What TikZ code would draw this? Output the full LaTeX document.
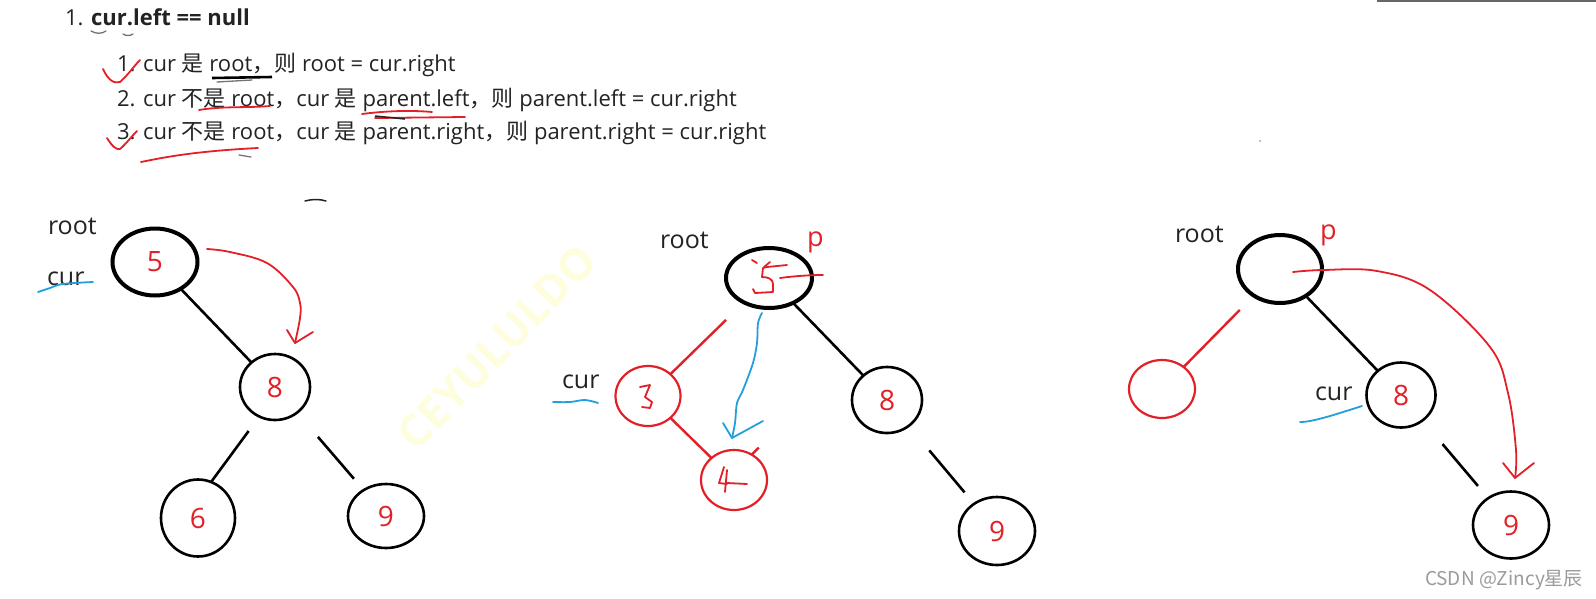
\documentclass[tikz,border=0pt]{standalone}
\usepackage{fontspec}
\setmainfont{Open Sans}
\newfontfamily\cjk{Noto Sans CJK SC}
\usetikzlibrary{shapes.geometric}
\definecolor{hred}{RGB}{226,32,40}
\definecolor{hblue}{RGB}{34,160,220}
\definecolor{wmyellow}{RGB}{254,254,222}
\definecolor{csdngray}{RGB}{155,155,155}
\definecolor{inkdark}{RGB}{35,35,35}
\begin{document}
\begin{tikzpicture}[x=1pt,y=-1pt,
 every node/.style={inner sep=0pt, outer sep=0pt},
 tnode/.style={ellipse, draw=black, line width=2.6pt, text=hred, font=\fontsize{28}{32}\selectfont},
 rootnode/.style={tnode, line width=4pt},
 rnode/.style={ellipse, draw=hred, line width=2.2pt},
 edge/.style={draw=black, line width=2.6pt},
 redge/.style={draw=hred, line width=2.4pt},
 redpen/.style={draw=hred, line width=1.8pt, line cap=round, line join=round},
 bluepen/.style={draw=hblue, line width=1.8pt, line cap=round, line join=round},
 graypen/.style={draw=black!55, line width=1.3pt, line cap=round},
 lbl/.style={anchor=base west, text=inkdark, font=\fontsize{25}{29}\selectfont},
 plbl/.style={anchor=base west, text=hred, font=\fontsize{27}{31}\selectfont},
 item/.style={anchor=base west, text=inkdark, font=\fontsize{22}{26}\selectfont},
]
\fill[white] (0,0) rectangle (1596,598);
\useasboundingbox (0,0) rectangle (1596,598);

% watermark
\node[rotate=46, text=wmyellow, font=\fontsize{44}{48}\selectfont\bfseries] (wm) at (497,347) {CEYULULDO};

% top-right bar and specks
\draw[black!60, line width=2pt] (1377,1) -- (1596,1);
\fill[black!40] (1260,141) circle (1pt);

% ---------- text list ----------
\node[anchor=base west, text=inkdark, font=\fontsize{22}{26}\selectfont] (title) at (65,25) {1. \textbf{cur.left == null}};
\node[item] (i1) at (117,71) {1. cur {\cjk 是} root{\cjk ，则} root = cur.right};
\node[item] (i2) at (117,106) {2. cur {\cjk 不是} root{\cjk ，}cur {\cjk 是} parent.left{\cjk ，则} parent.left = cur.right};
\node[item] (i3) at (117,139) {3. cur {\cjk 不是} root{\cjk ，}cur {\cjk 是} parent.right{\cjk ，则} parent.right = cur.right};

% annotations on text
\draw[graypen] (91,31) .. controls (96,34) and (102,34) .. (106,31);
\draw[graypen] (123,34) .. controls (126,36) and (130,36) .. (133,34);
\draw[redpen] (103,69) .. controls (108,80) and (114,84) .. (120,82) .. controls (128,75) and (134,66) .. (140,60);
\draw[black, line width=2.6pt] (212,78) -- (272,77);
\draw[graypen] (217,82) -- (252,80);
\draw[redpen] (199,110) .. controls (222,106) and (247,108) .. (270,106);
\draw[redpen] (362,114) .. controls (385,111) and (410,110) .. (432,112);
\draw[redpen] (375,118) -- (465,117);
\draw[inkdark, line width=1.5pt] (375,116) -- (405,119);
\draw[redpen] (107,138) .. controls (112,146) and (116,150) .. (120,149) .. controls (126,144) and (131,137) .. (137,131);
\draw[redpen] (141,162) .. controls (170,156) and (200,151) .. (258,148);
\draw[graypen] (239,155) -- (251,157);
\draw[inkdark, line width=1.5pt, line cap=round] (305,201) .. controls (312,199) and (320,199) .. (326,201);

% ---------- left tree ----------
\node[rootnode, minimum width=85pt, minimum height=67pt] (n5) at (155,262) {5};
\node[tnode, minimum width=70pt, minimum height=66pt] (n8) at (275,387) {8};
\node[tnode, minimum width=74pt, minimum height=77pt] (n6) at (198,518) {6};
\node[tnode, minimum width=76pt, minimum height=64pt] (n9) at (386,516) {9};
\node[lbl] (lroot) at (48,234) {root};
\node[lbl] (lcur) at (47,285) {cur};
\draw[edge] (n5) -- (n8);
\draw[edge, shorten <=18pt] (n8.242) -- (n6.70);
\draw[edge, shorten <=32pt, shorten >=15pt] (n8) -- (n9);
\draw[bluepen] plot[smooth, tension=0.6] coordinates {(38,292) (50,288) (63,284) (93,282)};
\coordinate (la0) at (207,249);
\coordinate (la1) at (295,343);
\draw[redpen] plot[smooth, tension=0.6] coordinates {(la0) (230,252) (267,263) (293,287) (300,303) (300,318) (la1)};
\draw[redpen] (287,330) -- (la1) -- (313,332);

% ---------- middle tree ----------
\node[rootnode, minimum width=86pt, minimum height=60pt] (mr) at (769,278) {};
\node[rnode, minimum width=65pt, minimum height=60pt] (m3) at (648,396) {};
\node[rnode, minimum width=66pt, minimum height=60pt] (m4) at (734,480) {};
\node[tnode, minimum width=70pt, minimum height=66pt] (m8) at (887,400) {8};
\node[tnode, minimum width=76pt, minimum height=68pt] (m9) at (997,531) {9};
\node[lbl] (mroot) at (660,248) {root};
\node[plbl] (mp) at (807,246) {p};
\node[lbl] (mcur) at (562,388) {cur};
\draw[edge] (mr) -- (m8);
\draw[redge, shorten <=25pt] (mr) -- (m3);
\draw[redge] (m3) -- (m4);
\draw[redge] (m4.55) -- ++(7,-7);
\draw[edge, shorten <=32pt, shorten >=15pt] (m8) -- (m9);
% scribbles
\draw[redpen] (752,260) -- (757,263);
\draw[redpen] (787,265) -- (767,267) -- (763,268) -- (762,277) .. controls (768,277) and (773,279) .. (773,284) -- (773,292) -- (755,293) -- (753,289);
\draw[redpen] (770,262) -- (764,267);
\draw[redpen] (780,278) .. controls (795,276) and (810,275) .. (823,275);
\draw[redpen] (640,387) -- (650,385) -- (645,397) -- (652,402) -- (650,408) -- (642,407);
\draw[redpen] (724,467) -- (719,483) -- (727,484);
\draw[redpen] (727,470) -- (725,492);
\draw[redpen] (727,483) -- (747,484);
\draw[bluepen] plot[smooth, tension=0.6] coordinates {(553,402) (570,402) (585,400) (598,403)};
\coordinate (mb0) at (762,313);
\coordinate (mb1) at (732,438);
\draw[bluepen] plot[smooth, tension=0.5] coordinates {(mb0) (758,323) (757,343) (753,363) (743,390) (737,403) (735,423) (mb1)};
\draw[bluepen] (723,423) -- (mb1) -- (763,421);

% ---------- right tree ----------
\node[rootnode, minimum width=84pt, minimum height=68pt] (rr) at (1280,269) {};
\node[rnode, minimum width=66pt, minimum height=58pt] (rL) at (1162,389) {};
\node[tnode, minimum width=69pt, minimum height=65pt] (r8) at (1401,395) {8};
\node[tnode, minimum width=76pt, minimum height=67pt] (r9) at (1511,525) {9};
\node[lbl] (rroot) at (1175,242) {root};
\node[plbl] (rp) at (1320,239) {p};
\node[lbl] (rcur) at (1315,400) {cur};
\draw[redge, shorten <=20pt] (rr) -- (rL);
\draw[edge] (rr) -- (r8);
\draw[edge, shorten <=31pt, shorten >=16pt] (r8) -- (r9);
\draw[bluepen] plot[smooth, tension=0.6] coordinates {(1300,422) (1310,421) (1330,416) (1362,406)};
\coordinate (ra0) at (1293,272);
\coordinate (ra1) at (1515,478);
\draw[redpen] plot[smooth, tension=0.6] coordinates {(ra0) (1323,270) (1377,271) (1430,290) (1490,347) (1508,393) (1516,450) (ra1)};
\draw[redpen] (1503,463) -- (ra1) -- (1534,463);

% watermark text bottom right
\node[anchor=base west, text=csdngray, font=\cjk\fontsize{19}{22}\selectfont] (csdn) at (1425,585) {CSDN @Zincy星辰};
\end{tikzpicture}
\end{document}
